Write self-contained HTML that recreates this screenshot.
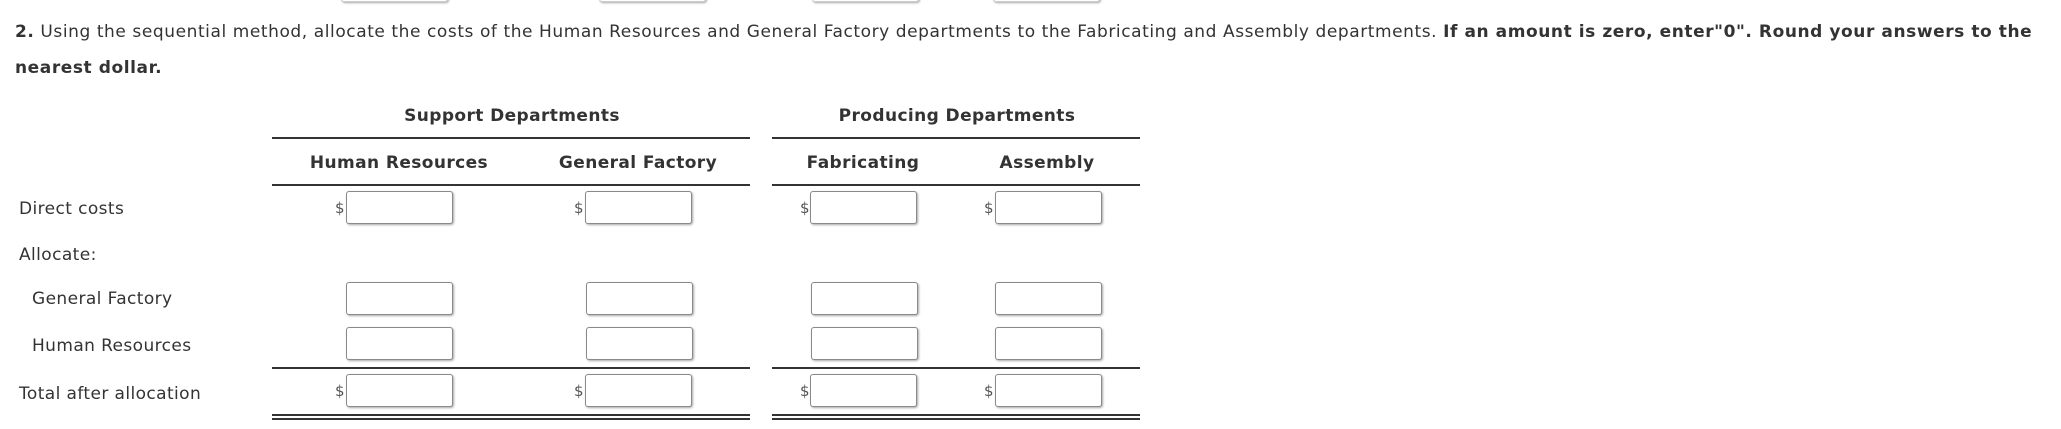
<!DOCTYPE html>
<html><head><meta charset="utf-8"><style>
body{margin:0;width:2061px;height:429px;background:#fff;position:relative;overflow:hidden;font-family:"DejaVu Sans","Liberation Sans",sans-serif;color:#333;font-size:17px;letter-spacing:0.4px}
.t{position:absolute;white-space:nowrap;line-height:20px}
.b{font-weight:bold}
.c{transform:translateX(-50%)}
.l{position:absolute;height:2px;background:#333}
.bx{position:absolute;width:105px;height:31px;border:1px solid #8a8a8a;border-radius:3px;box-shadow:1px 1px 2px rgba(0,0,0,.35);background:#fff}
.d{position:absolute;font-size:15px;color:#555}
</style></head><body>
<div class="bx" style="left:341px;top:-31px;border-color:#ccc"></div><div class="bx" style="left:599px;top:-31px;border-color:#ccc"></div><div class="bx" style="left:812px;top:-31px;border-color:#ccc"></div><div class="bx" style="left:993px;top:-31px;border-color:#ccc"></div>
<div class="t" style="left:15px;top:22px;letter-spacing:0.57px"><span class="b">2.</span> Using the sequential method, allocate the costs of the Human Resources and General Factory departments to the Fabricating and Assembly departments. <span class="b">If an amount is zero, enter"0". Round your answers to the</span></div>
<div class="t b" style="left:15px;top:58px;letter-spacing:0.57px">nearest dollar.</div>
<div class="t b c" style="left:512px;top:106px">Support Departments</div>
<div class="t b c" style="left:957px;top:106px">Producing Departments</div>
<div class="l" style="left:272px;width:478px;top:137px"></div>
<div class="l" style="left:772px;width:368px;top:137px"></div>
<div class="t b c" style="left:399px;top:153px">Human Resources</div>
<div class="t b c" style="left:638px;top:153px">General Factory</div>
<div class="t b c" style="left:863px;top:153px">Fabricating</div>
<div class="t b c" style="left:1047px;top:153px">Assembly</div>
<div class="l" style="left:272px;width:478px;top:184px"></div>
<div class="l" style="left:772px;width:368px;top:184px"></div>
<div class="t" style="left:19px;top:199px">Direct costs</div>
<div class="t" style="left:19px;top:245px">Allocate:</div>
<div class="t" style="left:32px;top:289px">General Factory</div>
<div class="t" style="left:32px;top:336px">Human Resources</div>
<div class="t" style="left:19px;top:384px">Total after allocation</div>
<div class="l" style="left:272px;width:478px;top:367px"></div>
<div class="l" style="left:772px;width:368px;top:367px"></div>
<div class="l" style="left:272px;width:478px;top:414px"></div>
<div class="l" style="left:772px;width:368px;top:414px"></div>
<div class="l" style="left:272px;width:478px;top:418px"></div>
<div class="l" style="left:772px;width:368px;top:418px"></div>
<div class="d" style="left:335px;top:199px">$</div><div class="d" style="left:574px;top:199px">$</div><div class="d" style="left:800px;top:199px">$</div><div class="d" style="left:984px;top:199px">$</div>
<div class="d" style="left:335px;top:382px">$</div><div class="d" style="left:574px;top:382px">$</div><div class="d" style="left:800px;top:382px">$</div><div class="d" style="left:984px;top:382px">$</div>
<div class="bx" style="left:346px;top:191px"></div><div class="bx" style="left:585px;top:191px"></div><div class="bx" style="left:810px;top:191px"></div><div class="bx" style="left:995px;top:191px"></div>
<div class="bx" style="left:346px;top:282px"></div><div class="bx" style="left:586px;top:282px"></div><div class="bx" style="left:811px;top:282px"></div><div class="bx" style="left:995px;top:282px"></div>
<div class="bx" style="left:346px;top:327px"></div><div class="bx" style="left:586px;top:327px"></div><div class="bx" style="left:811px;top:327px"></div><div class="bx" style="left:995px;top:327px"></div>
<div class="bx" style="left:346px;top:374px"></div><div class="bx" style="left:585px;top:374px"></div><div class="bx" style="left:810px;top:374px"></div><div class="bx" style="left:995px;top:374px"></div>
</body></html>
